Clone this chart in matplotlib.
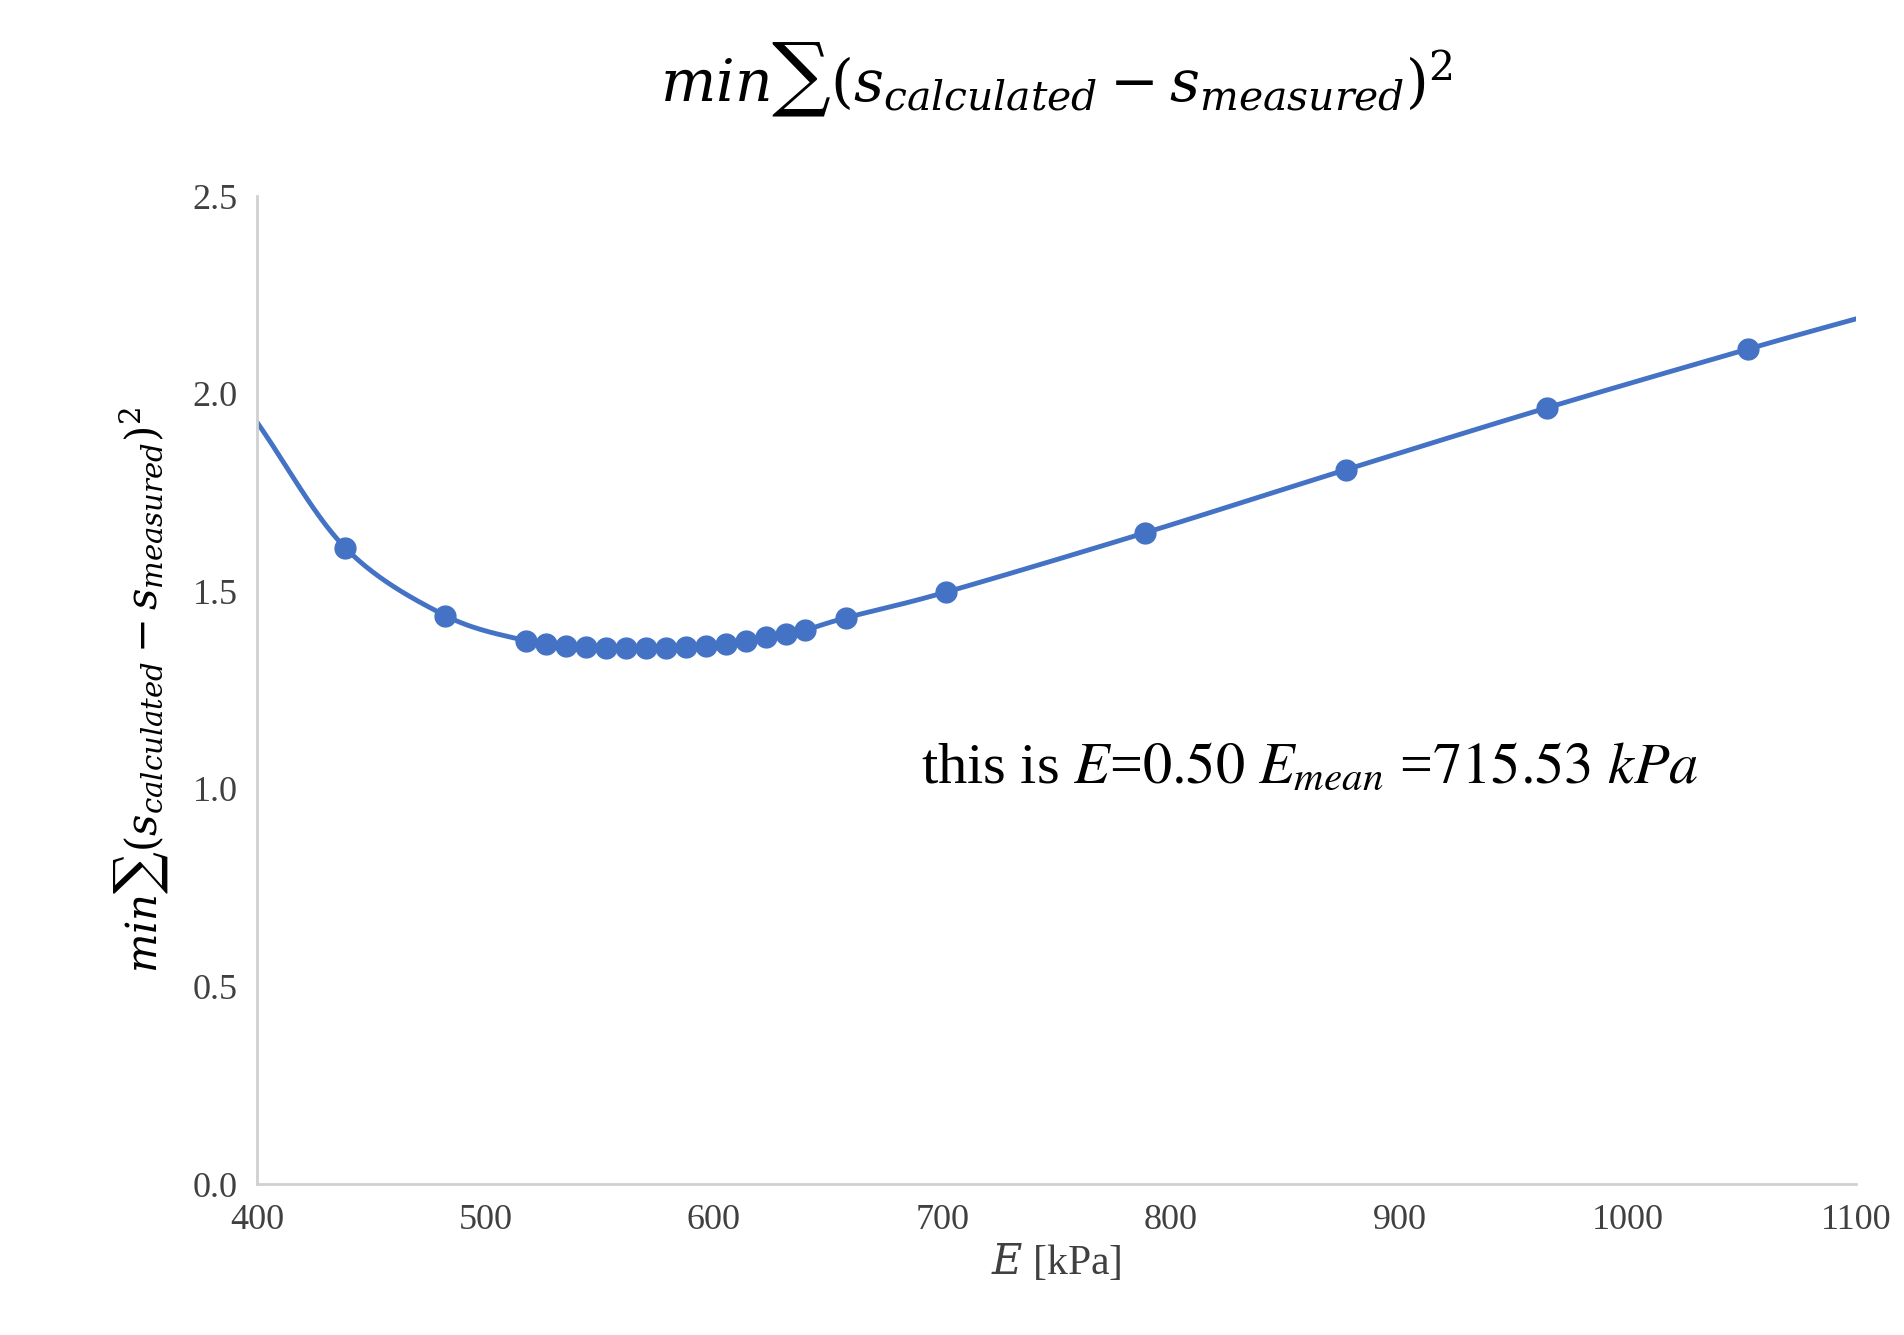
import numpy as np
import matplotlib
matplotlib.use("Agg")
import matplotlib.pyplot as plt

plt.rcParams['font.family'] = ['Liberation Serif', 'DejaVu Serif']
plt.rcParams['mathtext.fontset'] = 'dejavuserif'

# sampled points (markers)
E_pts = [438.5, 482.3, 517.6, 526.4, 535.2, 543.9, 552.7, 561.5, 570.2, 579.0,
         587.8, 596.5, 605.3, 614.1, 622.8, 631.4, 639.9, 657.6, 701.4, 788.5,
         876.6, 964.8, 1052.4]
S_pts = [1.611, 1.439, 1.375, 1.368, 1.362, 1.359, 1.356, 1.356, 1.356, 1.356,
         1.359, 1.362, 1.368, 1.375, 1.384, 1.393, 1.402, 1.433, 1.498, 1.648,
         1.808, 1.965, 2.113]
# line ends
E_ends = [400, 1100]
S_ends = [1.928, 2.190]


def catmull_rom(x, y, n=30):
    x = np.asarray(x, float)
    y = np.asarray(y, float)
    px = np.concatenate([[2 * x[0] - x[1]], x, [2 * x[-1] - x[-2]]])
    py = np.concatenate([[2 * y[0] - y[1]], y, [2 * y[-1] - y[-2]]])
    outx, outy = [], []
    t = np.linspace(0, 1, n)
    for i in range(1, len(px) - 2):
        for arr, out in ((px, outx), (py, outy)):
            p0, p1, p2, p3 = arr[i - 1:i + 3]
            out.extend(0.5 * (2 * p1 + (-p0 + p2) * t + (2 * p0 - 5 * p1 + 4 * p2 - p3) * t ** 2
                              + (-p0 + 3 * p1 - 3 * p2 + p3) * t ** 3))
    return outx, outy


lx, ly = catmull_rom([E_ends[0]] + E_pts + [E_ends[1]], [S_ends[0]] + S_pts + [S_ends[1]])

color = '#4472C4'
fig = plt.figure(figsize=(19.04, 13.35), dpi=100)
ax = fig.add_axes([0.135, 0.113, 0.84, 0.74])
ax.plot(lx, ly, color=color, lw=3.5)
ax.plot(E_pts, S_pts, 'o', color=color, ms=15)

ax.set_xlim(400, 1100)
ax.set_ylim(0, 2.5)
ax.set_xticks(np.arange(400, 1101, 100))
ax.set_yticks(np.arange(0, 2.51, 0.5))
ax.yaxis.set_major_formatter(matplotlib.ticker.FormatStrFormatter('%.1f'))
ax.tick_params(labelsize=26, length=0, colors='#404040', pad=14)
for s in ['top', 'right']:
    ax.spines[s].set_visible(False)
for s in ['left', 'bottom']:
    ax.spines[s].set_color('#d0d0d0')
    ax.spines[s].set_linewidth(2)

ax.set_xlabel(r'$E$ [kPa]', fontsize=30, color='#404040')
ax.set_ylabel(r'$min\sum(s_{calculated}-s_{measured})^2$', fontsize=30, labelpad=16)
fig.text(0.555, 0.94, r'$min\sum(s_{calculated}-s_{measured})^2$', fontsize=42, ha='center', va='center')
ax.text(0.415, 0.42, r'this is $E$=$0.50\ E_{mean}$ =$715.53\ kPa$', transform=ax.transAxes,
        fontsize=42, ha='left', va='center', math_fontfamily='stix')

fig.savefig('out.png', dpi=100)
